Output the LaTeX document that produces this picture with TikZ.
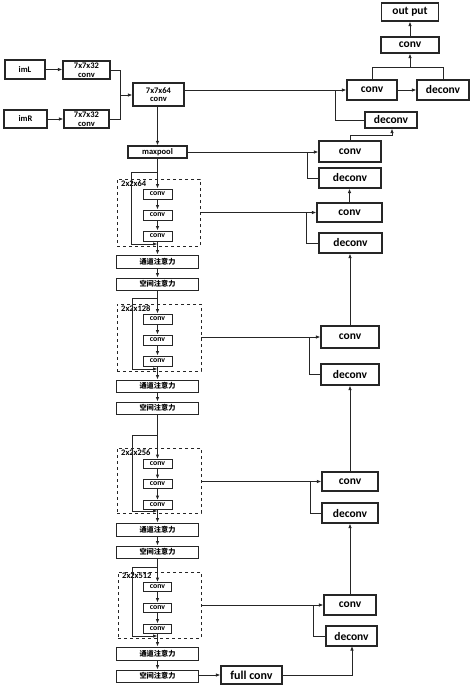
\documentclass[tikz,border=0pt]{standalone}
\usepackage{fontspec}
\setmainfont{Carlito}
\newfontfamily\cjk{Noto Sans CJK SC}
\usetikzlibrary{arrows.meta}
\tikzset{
  box/.style={draw=black!85, line width=1.1pt, inner sep=0pt, align=center, font=\bfseries\fontsize{11.5}{12}\selectfont},
  midbox/.style={box, font=\bfseries\fontsize{8.5}{8.5}\selectfont},
  smallbox/.style={box, line width=0.9pt, font=\bfseries\fontsize{7.8}{8}\selectfont},
  cnbox/.style={box, line width=0.9pt, font=\cjk\bfseries\fontsize{7.2}{8}\selectfont},
  dbox/.style={draw=black!85, dashed, line width=0.8pt, inner sep=0pt},
  dlabel/.style={inner sep=0pt, anchor=north west, font=\bfseries\fontsize{8.5}{9}\selectfont},
  ln/.style={draw=black!85, line width=0.9pt},
  arr/.style={ln, -{Latex[length=4.5pt,width=3.5pt]}}
}
\begin{document}
\begin{tikzpicture}[x=1pt,y=-1pt]
\fill[white] (0,0) rectangle (474,689);
\useasboundingbox (0,0) rectangle (474,689);

% top left
\node[midbox, minimum width=40pt, minimum height=19pt] (imL) at (25,69.5) {imL};
\node[midbox, minimum width=47pt, minimum height=18pt] (c1) at (86.5,70) {7x7x32\\conv};
\node[midbox, minimum width=43pt, minimum height=18pt] (imR) at (25.5,119) {imR};
\node[midbox, minimum width=45pt, minimum height=18pt] (c2) at (86.5,119) {7x7x32\\conv};
\node[midbox, minimum width=51pt, minimum height=23pt] (c3) at (158.5,94.5) {7x7x64\\conv};
\node[midbox, minimum width=59pt, minimum height=12pt] (mp) at (157.5,152) {maxpool};

\draw[arr] (imL.east) -- (c1.west |- imL.east);
\draw[arr] (imR.east) -- (c2.west |- imR.east);
\coordinate (j0) at (120,95);
\draw[ln] (c1.east) -- (120,70) -- (120,119) -- (c2.east);
\draw[arr] (j0) -- (c3.west |- j0);
\draw[arr] (c3.south -| mp.north) -- (mp.north);

% right top
\node[box, minimum width=50pt, minimum height=20pt] (rc0) at (372,90) {conv};
\node[box, minimum width=52pt, minimum height=20pt] (rd0) at (443,90) {deconv};
\node[box, minimum width=58pt, minimum height=16pt] (rcu) at (410,45) {conv};
\node[box, minimum width=57pt, minimum height=18pt] (out) at (410,12) {out put};
\node[box, minimum width=52pt, minimum height=16pt] (rdA) at (391,120) {deconv};

\coordinate (jt) at (410,67);
\draw[arr] (c3.east |- rc0.west) -- (rc0.west);
\draw[arr] (rc0.east) -- (rd0.west);
\draw[ln] (rc0.north) -- (rc0.north |- jt) -- (rd0.north |- jt) -- (rd0.north);
\draw[arr] (jt) -- (rcu.south);
\draw[arr] (rcu.north) -- (out.south);
\draw[ln] (rdA.west) -- (335,120) -- (335,90);

% maxpool level
\node[box, minimum width=62pt, minimum height=21pt] (rcM) at (350,151.5) {conv};
\node[box, minimum width=62pt, minimum height=20pt] (rdM) at (350,178) {deconv};
\draw[arr] (mp.east) -- (rcM.west |- mp.east);
\draw[ln] (rdM.west) -- (307,178) -- (307,152);
\draw[arr] (rcM.north) -- (350,135) -- (392,135) -- (rdA.south -| 392,0);

% ---------- block 1
\node[dbox, minimum width=83pt, minimum height=67pt] (db1) at (158.5,212.5) {};
\node[dlabel] (l1) at (121,180) {2x2x64};
\node[smallbox, minimum width=29pt, minimum height=10pt] (b1a) at (157.5,194) {conv};
\node[smallbox, minimum width=29pt, minimum height=10pt] (b1b) at (157.5,215) {conv};
\node[smallbox, minimum width=29pt, minimum height=10pt] (b1c) at (157.5,236) {conv};
\node[cnbox, minimum width=82pt, minimum height=13pt] (t1) at (157.5,261.5) {通道注意力};
\node[cnbox, minimum width=82pt, minimum height=12pt] (s1) at (157.5,284) {空间注意力};
\draw[arr] (mp.south) -- (b1a.north);
\draw[arr] (b1a.south) -- (b1b.north);
\draw[arr] (b1b.south) -- (b1c.north);
\draw[arr] (b1c.south) -- (t1.north);
\draw[arr] (t1.south) -- (s1.north);
\draw[arr] (157.5,172) -- (131,172) -- (131,244) -- (157.5,244);
\node[box, minimum width=65pt, minimum height=19pt] (rc1) at (349.5,212.5) {conv};
\node[box, minimum width=63pt, minimum height=20pt] (rd1) at (350.5,243) {deconv};
\draw[arr] (db1.east |- rc1.west) -- (rc1.west);
\draw[ln] (rd1.west) -- (306,243) -- (306,212.5);
\draw[arr] (rc1.north) -- (rc1.north |- rdM.south);

% ---------- block 2
\node[dbox, minimum width=84pt, minimum height=67pt] (db2) at (159,337.5) {};
\node[dlabel] (l2) at (121,305) {2x2x128};
\node[smallbox, minimum width=29pt, minimum height=10pt] (b2a) at (157.5,319) {conv};
\node[smallbox, minimum width=29pt, minimum height=10pt] (b2b) at (157.5,340) {conv};
\node[smallbox, minimum width=29pt, minimum height=10pt] (b2c) at (157.5,361) {conv};
\node[cnbox, minimum width=82pt, minimum height=12pt] (t2) at (157.5,386) {通道注意力};
\node[cnbox, minimum width=82pt, minimum height=12pt] (s2) at (157.5,408) {空间注意力};
\draw[arr] (s1.south) -- (b2a.north);
\draw[arr] (b2a.south) -- (b2b.north);
\draw[arr] (b2b.south) -- (b2c.north);
\draw[arr] (b2c.south) -- (t2.north);
\draw[arr] (t2.south) -- (s2.north);
\draw[arr] (157.5,298) -- (132,298) -- (132,369) -- (157.5,369);
\node[box, minimum width=58pt, minimum height=22pt] (rc2) at (350,337) {conv};
\node[box, minimum width=58pt, minimum height=21pt] (rd2) at (350,374.5) {deconv};
\draw[arr] (db2.east |- rc2.west) -- (rc2.west);
\draw[ln] (rd2.west) -- (309,374.5) -- (309,337);
\draw[arr] (rc2.north) -- (rc2.north |- rd1.south);

% ---------- block 3
\node[dbox, minimum width=84pt, minimum height=65pt] (db3) at (159,480.5) {};
\node[dlabel] (l3) at (121,449) {2x2x256};
\node[smallbox, minimum width=29pt, minimum height=9pt] (b3a) at (157.5,464) {conv};
\node[smallbox, minimum width=29pt, minimum height=9pt] (b3b) at (157.5,484) {conv};
\node[smallbox, minimum width=29pt, minimum height=9pt] (b3c) at (157.5,505) {conv};
\node[cnbox, minimum width=82pt, minimum height=13pt] (t3) at (157.5,529.5) {通道注意力};
\node[cnbox, minimum width=82pt, minimum height=12pt] (s3) at (157.5,552) {空间注意力};
\draw[arr] (s2.south) -- (b3a.north);
\draw[arr] (b3a.south) -- (b3b.north);
\draw[arr] (b3b.south) -- (b3c.north);
\draw[arr] (b3c.south) -- (t3.north);
\draw[arr] (t3.south) -- (s3.north);
\draw[arr] (157.5,435) -- (132,435) -- (132,511) -- (157.5,511);
\node[box, minimum width=56pt, minimum height=19pt] (rc3) at (350,481.5) {conv};
\node[box, minimum width=56pt, minimum height=20pt] (rd3) at (350,513) {deconv};
\draw[arr] (db3.east |- rc3.west) -- (rc3.west);
\draw[ln] (rd3.west) -- (310,513) -- (310,481.5);
\draw[arr] (rc3.north) -- (rc3.north |- rd2.south);

% ---------- block 4
\node[dbox, minimum width=83pt, minimum height=66pt] (db4) at (159.5,605) {};
\node[dlabel] (l4) at (122,573) {2x2x512};
\node[smallbox, minimum width=28pt, minimum height=9pt] (b4a) at (157.5,587) {conv};
\node[smallbox, minimum width=28pt, minimum height=9pt] (b4b) at (157.5,607.5) {conv};
\node[smallbox, minimum width=28pt, minimum height=9pt] (b4c) at (157.5,628.5) {conv};
\node[cnbox, minimum width=82pt, minimum height=13pt] (t4) at (157.5,653.5) {通道注意力};
\node[cnbox, minimum width=82pt, minimum height=12pt] (s4) at (157.5,676) {空间注意力};
\draw[arr] (s3.south) -- (b4a.north);
\draw[arr] (b4a.south) -- (b4b.north);
\draw[arr] (b4b.south) -- (b4c.north);
\draw[arr] (b4c.south) -- (t4.north);
\draw[arr] (t4.south) -- (s4.north);
\draw[arr] (157.5,567) -- (132,567) -- (132,636) -- (157.5,636);
\node[box, minimum width=52pt, minimum height=20pt] (rc4) at (350,605) {conv};
\node[box, minimum width=51pt, minimum height=20pt] (rd4) at (351.5,636) {deconv};
\draw[arr] (db4.east |- rc4.west) -- (rc4.west);
\draw[ln] (rd4.west) -- (313,636) -- (313,605);
\draw[arr] (rc4.north) -- (rc4.north |- rd3.south);

% full conv
\node[box, minimum width=61pt, minimum height=18pt, font=\bfseries\fontsize{12}{13}\selectfont] (fc) at (251.5,675) {full conv};
\draw[arr] (s4.east |- fc.west) -- (fc.west);
\draw[arr] (fc.east) -- (352,675) -- (352,646);
\end{tikzpicture}
\end{document}
